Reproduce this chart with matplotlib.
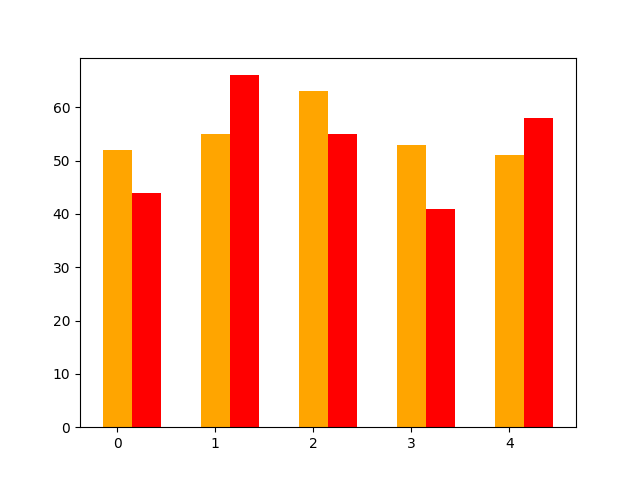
import matplotlib
matplotlib.use("Agg")
import matplotlib.pyplot as plt
import numpy as np

categories = [0, 1, 2, 3, 4]
series_a = [52, 55, 63, 53, 51]
series_b = [44, 66, 55, 41, 58]

x = np.array(categories)
width = 0.3
fig, ax = plt.subplots(figsize=(6.4, 4.8), dpi=100)
ax.bar(x, series_a, width, color='orange')
ax.bar(x + width, series_b, width, color='red')
fig.savefig("out.png")
